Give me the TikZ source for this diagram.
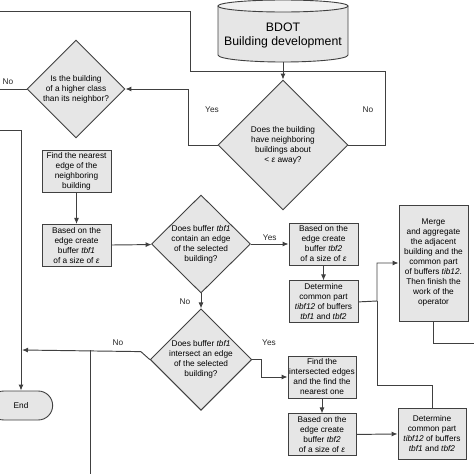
\documentclass[tikz,border=0pt]{standalone}
\usepackage{fontspec}
\setmainfont{Liberation Sans}
\usetikzlibrary{arrows.meta, positioning, shapes.geometric, shapes.misc}
\definecolor{linegray}{HTML}{404040}
\definecolor{boxgray}{HTML}{E6E6E6}
\newcommand{\flowfont}{\fontsize{8.3pt}{10pt}\selectfont}

\begin{document}
\begin{tikzpicture}[
  x=1pt, y=-1pt,
  node distance=31pt and 37pt,
  box/.style={draw=linegray, fill=boxgray, align=center, minimum width=69pt, minimum height=42pt, inner sep=1pt, font=\flowfont, line width=0.9pt},
  decision/.style={diamond, draw=linegray, fill=boxgray, align=center, aspect=1, inner sep=0pt, font=\flowfont, line width=0.9pt},
  terminal/.style={rounded rectangle, draw=linegray, fill=boxgray, minimum width=70pt, minimum height=29pt, font=\flowfont, line width=0.9pt},
  arrow/.style={-{Latex[length=6pt, width=5pt]}, draw=linegray, line width=0.95pt},
  wire/.style={draw=linegray, line width=0.95pt},
  lbl/.style={font=\flowfont, text=black!85}
]
\useasboundingbox (0,0) rectangle (474,474);
\clip (0,0) rectangle (474,474);

% source database
\filldraw[draw=linegray, fill=boxgray, line width=0.9pt] (218,6) -- (218,55) arc[start angle=180, end angle=360, x radius=65pt, y radius=7pt] -- (348,6) -- cycle;
\filldraw[draw=linegray, fill=boxgray!60, line width=0.9pt] (283,6) ellipse[x radius=65pt, y radius=6pt];
\node[align=center, font=\fontsize{12.3pt}{14pt}\selectfont] (bdot) at (283,35) {BDOT\\Building development};
\coordinate (bdotbase) at (283,62);

\node[decision, minimum width=130pt, minimum height=130pt] (d1) at (283,145) {Does the building\\have neighboring\\buildings about\\< \textit{ε} away?};
\node[decision, minimum width=98pt, minimum height=98pt] (d2) at (76,89) {Is the building\\of a higher class\\than its neighbor?};

\node[box] (nearest) at (76.5,171.5) {Find the nearest\\edge of the\\neighboring\\building};
\node[box, below=of nearest] (buf1) {Based on the\\edge create\\buffer \textit{tbf1}\\of a size of \textit{ε}};

\node[decision, minimum width=99pt, minimum height=98pt] (d3) at (201,244) {Does buffer \textit{tbf1}\\contain an edge\\of the selected\\building?};
\node[decision, minimum width=99pt, minimum height=98pt, below=15pt of d3] (d4) {Does buffer \textit{tbf1}\\intersect an edge\\of the selected\\building?};

\node[box] (bufa) at (323.5,244) {Based on the\\edge create\\buffer \textit{tbf2}\\of a size of \textit{ε}};
\node[box, below=15pt of bufa] (comA) {Determine\\common part\\\textit{tibf12} of buffers\\\textit{tbf1} and \textit{tbf2}};
\node[box, minimum height=116pt] (merge) at (433.5,263) {Merge\\and aggregate\\the adjacent\\building and the\\common part\\of buffers \textit{tib12}.\\Then finish the\\work of the\\operator};

\node[box, minimum width=68pt] (inter) at (322,377) {Find the\\intersected edges\\and the find the\\nearest one};
\node[box, minimum width=68pt, below=15pt of inter] (bufb) {Based on the\\edge create\\buffer \textit{tbf2}\\of a size of \textit{ε}};
\node[box, minimum width=68pt, minimum height=51pt] (comB) at (432,433.5) {Determine\\common part\\\textit{tibf12} of buffers\\\textit{tbf1} and \textit{tbf2}};

\node[terminal] (finish) at (21,405.5) {End};

\coordinate (inA) at (0,11);
\coordinate (jA) at (190,71);
\coordinate (jTop) at (283,71);
\coordinate (outB) at (0,89);
\coordinate (inC) at (0,130);
\coordinate (jB) at (377,301);
\coordinate (jC) at (377,385);
\coordinate (outD) at (474,343);
\coordinate (jE) at (22,350);
\coordinate (jD) at (90,350);
\coordinate (outE) at (90,474);

\draw[wire] (inA) -| (jA) -- (jTop);
\draw[arrow] (bdotbase) -- (d1.north);
\draw[wire] (d1.east) -- ++(37,0) |- (jTop);
\node[lbl] (no1) at (368,110) {No};
\draw[arrow] (d1.west) -- ++(-29,0) |- (d2.east);
\node[lbl] (yes1) at (212,110) {Yes};
\draw[wire] (d2.west) -- (outB);
\node[lbl] (no2) at (8,82) {No};
\draw[arrow] (inC) -| (finish.north);

\draw[arrow] (nearest) -- (buf1);
\draw[arrow] (buf1) -- (d3);
\draw[arrow] (d3) -- node[lbl, above]{Yes} (bufa);
\draw[arrow] (d3) -- (d4);
\node[lbl] (no3) at (185,302) {No};
\draw[arrow] (bufa) -- (comA);
\draw[arrow] (comA.east) -- (jB) |- (merge.west);
\draw[wire] (comB.north) |- (jC) -- (jB);
\draw[wire] (merge.south) |- (outD);

\draw[arrow] (d4.west) -- ++(-9,-8) -- (jE);
\node[lbl] (no4) at (118,343) {No};
\draw[wire] (jD) -- (outE);
\draw[arrow] (d4.east) -- ++(9,0) |- (inter.west);
\node[lbl] (yes4) at (269,343) {Yes};
\draw[arrow] (inter) -- (bufb);
\draw[arrow] (bufb) -- (comB);

\end{tikzpicture}
\end{document}
